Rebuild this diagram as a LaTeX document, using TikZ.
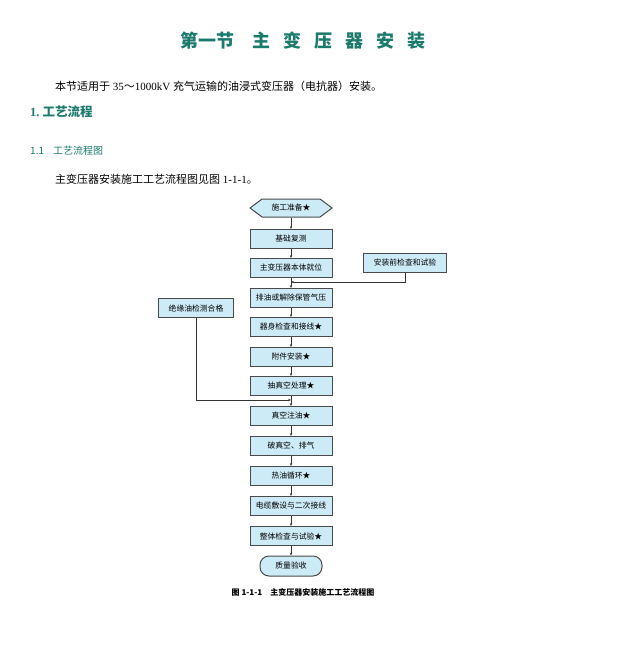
\documentclass[tikz,border=0pt]{standalone}
\usepackage{fontspec}
\setmainfont{Liberation Serif}
\newfontfamily\cjk{Noto Sans CJK SC}
\usetikzlibrary{arrows.meta,shapes.misc}
\definecolor{teal1}{HTML}{1B7A6C}
\definecolor{boxfill}{HTML}{CDEBF7}
\definecolor{boxline}{HTML}{4A4A4A}
\tikzset{
  stepbox/.style={draw=boxline,line width=1pt,fill=boxfill,minimum width=82pt,minimum height=19pt,inner sep=0pt,font=\cjk\fontsize{7.8}{8}\selectfont},
  flow/.style={draw=black!80,line width=0.6pt,-{Stealth[length=3pt,width=2.4pt]}},
  txt/.style={anchor=west,inner sep=0pt}
}
\begin{document}
\begin{tikzpicture}[x=1pt,y=-1pt]
\useasboundingbox (0,0) rectangle (621,669);
\node[inner sep=0pt,text=teal1,font=\cjk\bfseries\fontsize{18}{19}\selectfont] (title) at (303,41) {第一节\hspace{18pt}主\hspace{13pt}变\hspace{13pt}压\hspace{13pt}器\hspace{13pt}安\hspace{13pt}装};
\node[txt,font=\fontsize{11}{12}\selectfont] (intro) at (55,86) {{\cjk 本节适用于} 35{\cjk ～}1000kV {\cjk 充气运输的油浸式变压器（电抗器）安装。}};
\node[txt,text=teal1,font=\bfseries\fontsize{12.5}{14}\selectfont] (h1) at (30,112) {1.\ {\cjk\bfseries 工艺流程}};
\node[txt,text=teal1,font=\cjk\fontsize{10}{11}\selectfont] (h2) at (30,151) {1.1\hspace{9pt}工艺流程图};
\node[txt,font=\fontsize{11}{12}\selectfont] (ref) at (55,179) {{\cjk 主变压器安装施工工艺流程图见图} 1-1-1{\cjk 。}};

\node[stepbox,draw=none,fill=none] (n0) at (291,208) {施工准备★};
\fill[boxfill,draw=boxline,line width=1pt] (250,208) -- (262,199) -- (320,199) -- (332,208) -- (320,217) -- (262,217) -- cycle;
\node[inner sep=0pt,font=\cjk\fontsize{7.8}{8}\selectfont] at (n0) {施工准备★};
\node[stepbox] (n1) at (291,239) {基础复测};
\node[stepbox] (n2) at (291,268) {主变压器本体就位};
\node[stepbox] (n3) at (291,298) {排油或解除保管气压};
\node[stepbox] (n4) at (291,327) {器身检查和接线★};
\node[stepbox] (n5) at (291,357) {附件安装★};
\node[stepbox] (n6) at (291,386) {抽真空处理★};
\node[stepbox] (n7) at (291,416) {真空注油★};
\node[stepbox] (n8) at (291,446) {破真空、排气};
\node[stepbox] (n9) at (291,476) {热油循环★};
\node[stepbox] (n10) at (291,506) {电缆敷设与二次接线};
\node[stepbox] (n11) at (291,536) {整体检查与试验★};
\node[stepbox,rounded corners=9pt,minimum width=62pt,minimum height=20pt] (n12) at (291,566) {质量验收};
\node[stepbox,minimum width=83pt] (r1) at (405,263) {安装前检查和试验};
\node[stepbox,minimum width=75pt] (l1) at (196,308) {绝缘油检测合格};

\draw[flow] (n0.south) -- (n1);
\foreach \a/\b in {n1/n2,n2/n3,n3/n4,n4/n5,n5/n6,n6/n7,n7/n8,n8/n9,n9/n10,n10/n11,n11/n12}
  \draw[flow] (\a) -- (\b);
\coordinate (mr) at (291,282);
\coordinate (ml) at (291,400);
\draw[flow] (r1.south) |- (mr);
\draw[flow] (l1.south) |- (ml);

\node[inner sep=0pt,font=\cjk\bfseries\fontsize{8}{9}\selectfont] (cap) at (303,592) {图 1-1-1\hspace{8pt}主变压器安装施工工艺流程图};
\end{tikzpicture}
\end{document}
